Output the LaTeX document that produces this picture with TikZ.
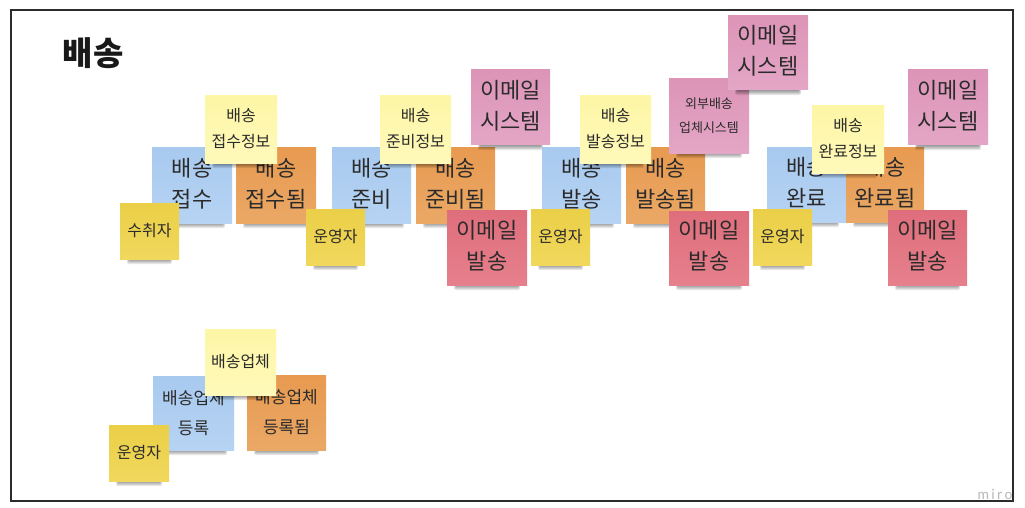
\documentclass[tikz,border=0pt]{standalone}
\usepackage{fontspec}
\setmainfont{Noto Sans CJK KR}
\newfontfamily\logofont{Lato}
\definecolor{inkc}{HTML}{2B2B2B}
\tikzset{
  note/.style={inner sep=0pt,outer sep=0pt,align=center,text=inkc,font=\fontsize{22}{31}\selectfont},
  small/.style={font=\fontsize{16}{26}\selectfont},
  mid/.style={font=\fontsize{17}{30}\selectfont},
  tiny/.style={font=\fontsize{13}{24}\selectfont},
  bluenote/.style={note,top color=b1,bottom color=b2},
  orangenote/.style={note,top color=o1,bottom color=o2},
  palenote/.style={note,top color=p1,bottom color=p2},
  goldnote/.style={note,top color=g1,bottom color=g2},
  pinknote/.style={note,top color=k1,bottom color=k2},
  rednote/.style={note,top color=r1,bottom color=r2},
}
\definecolor{b1}{HTML}{A8CAEF}\definecolor{b2}{HTML}{B6D3F3}
\definecolor{o1}{HTML}{E89A50}\definecolor{o2}{HTML}{EAA866}
\definecolor{p1}{HTML}{FDF6A6}\definecolor{p2}{HTML}{FFF9BA}
\definecolor{g1}{HTML}{EBCF48}\definecolor{g2}{HTML}{F1D85C}
\definecolor{k1}{HTML}{DC94B7}\definecolor{k2}{HTML}{E4A6C6}
\definecolor{r1}{HTML}{DF6E7C}\definecolor{r2}{HTML}{E6808C}
% #1 name, #2 x1, #3 y1, #4 x2, #5 y2, #6 style, #7 text
\newcommand{\sticky}[7]{%
  \pgfmathsetmacro{\cxx}{(#2+#4)/2}%
  \pgfmathsetmacro{\cyy}{(#3+#5)/2}%
  \pgfmathsetmacro{\wdd}{#4-#2}%
  \pgfmathsetmacro{\htt}{#5-#3}%
  \foreach \i in {0,1,2,3,4}{%
    \fill[black,opacity=0.09,rounded corners=2pt]
      ({#2+9-\i*0.5},{#5-6}) rectangle ({#4-9+\i*0.5},{#5+1.2+\i});
  }%
  \node[#6,minimum width=\wdd pt,minimum height=\htt pt] (#1) at (\cxx,\cyy)
    {\raisebox{3pt}{\begin{tabular}{@{}c@{}}#7\end{tabular}}};%
}
\begin{document}
\begin{tikzpicture}[x=1pt,y=-1pt]
\useasboundingbox (0,0) rectangle (1025,508);
\fill[white] (0,0) rectangle (1025,508);
\node[font=\fontsize{33}{33}\selectfont\bfseries,text=black!90] (title) at (93,53) {배송};
% row 1
\sticky{n1}{152}{148}{232}{223}{bluenote}{배송\\접수}
\sticky{n2}{236}{148}{316}{223}{orangenote}{배송\\접수됨}
\sticky{n3}{205}{96}{277}{163}{palenote,small}{배송\\접수정보}
\sticky{n4}{120}{203}{179}{259}{goldnote,small}{수취자}
\sticky{n5}{332}{148}{411}{223}{bluenote}{배송\\준비}
\sticky{n6}{416}{148}{495}{223}{orangenote}{배송\\준비됨}
\sticky{n7}{380}{96}{451}{163}{palenote,small}{배송\\준비정보}
\sticky{n8}{306}{209}{365}{265}{goldnote,small}{운영자}
\sticky{n9}{471}{70}{550}{145}{pinknote}{이메일\\시스템}
\sticky{n10}{447}{210}{527}{285}{rednote}{이메일\\발송}
\sticky{n11}{542}{148}{621}{223}{bluenote}{배송\\발송}
\sticky{n12}{626}{148}{705}{223}{orangenote}{배송\\발송됨}
\sticky{n13}{580}{96}{651}{163}{palenote,small}{배송\\발송정보}
\sticky{n14}{531}{209}{590}{265}{goldnote,small}{운영자}
\sticky{n15}{669}{79}{749}{153}{pinknote,tiny}{외부배송\\업체시스템}
\sticky{n16}{728}{16}{808}{90}{pinknote}{이메일\\시스템}
\sticky{n17}{669}{211}{749}{285}{rednote}{이메일\\발송}
\sticky{n18}{767}{148}{846}{222}{bluenote}{배송\\완료}
\sticky{n19}{846}{148}{924}{222}{orangenote}{배송\\완료됨}
\sticky{n20}{812}{106}{884}{173}{palenote,small}{배송\\완료정보}
\sticky{n21}{753}{209}{812}{265}{goldnote,small}{운영자}
\sticky{n22}{908}{70}{988}{145}{pinknote}{이메일\\시스템}
\sticky{n23}{888}{210}{967}{285}{rednote}{이메일\\발송}
% row 2
\sticky{n24}{153}{376}{234}{450}{bluenote,mid}{배송업체\\등록}
\sticky{n25}{247}{375}{326}{450}{orangenote,mid}{배송업체\\등록됨}
\sticky{n26}{205}{329}{276}{395}{palenote,small}{배송업체}
\sticky{n27}{109}{425}{169}{481}{goldnote,small}{운영자}
% frame
\draw[draw=inkc,line width=1.4pt] (11,10) rectangle (1013,501);
\node[font=\logofont\fontsize{14}{14}\selectfont,text=black!28] (logo) at (995,494) {m\,i\,r\,o};
\end{tikzpicture}
\end{document}
